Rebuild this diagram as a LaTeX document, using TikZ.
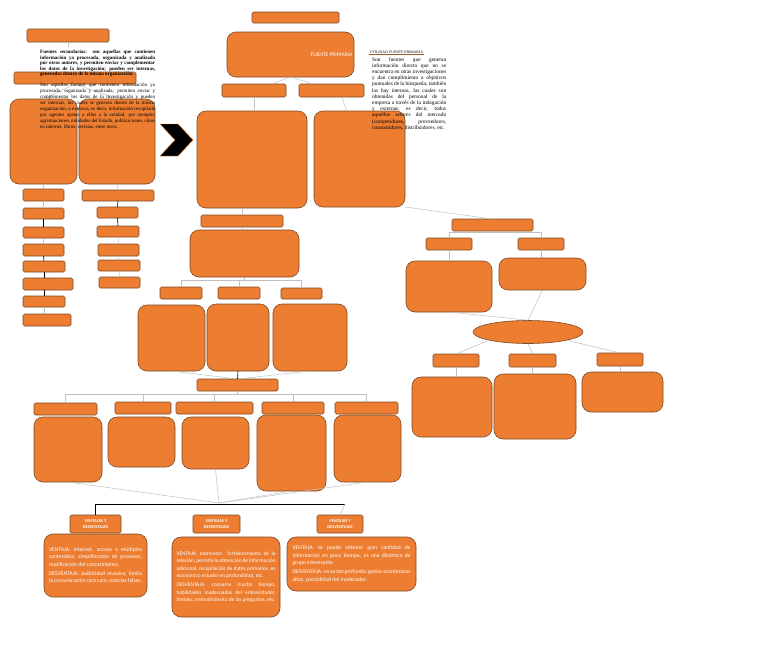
\documentclass[tikz,border=0pt]{standalone}
\usepackage{fontspec}
\setmainfont{Liberation Serif}
\newfontfamily\calibri{Carlito}
\usetikzlibrary{shapes.geometric}
\definecolor{naranja}{HTML}{ED7D31}
\definecolor{borde}{HTML}{7B4A24}
\definecolor{linea}{HTML}{BFBFBF}
\hyphenpenalty=10000
\exhyphenpenalty=10000
\tolerance=9999
\emergencystretch=8pt

\begin{document}
\begin{tikzpicture}[x=1pt, y=-1pt,
	caja/.style={draw=borde, fill=naranja, line width=0.6pt, rounded corners=9pt, inner sep=0pt, outer sep=0pt},
	barra/.style={draw=borde, fill=naranja, line width=0.6pt, rounded corners=1.5pt, inner sep=0pt, outer sep=0pt},
	con/.style={draw=linea, line width=0.5pt},
	neg/.style={draw=black, line width=0.6pt},
	blanco/.style={text=white, font=\calibri\fontsize{5.6}{7.3}\selectfont, align=justify},
	titulo/.style={barra, minimum height=18pt, text=white, font=\calibri\bfseries\fontsize{4.4}{5.6}\selectfont, align=center}]
	\useasboundingbox (0,0) rectangle (768,664);

	% columna izquierda
	\node[barra, minimum width=82pt, minimum height=13pt] (t1) at (68,35.5) {};
	\node[barra, minimum width=122pt, minimum height=12pt] (t2) at (75,78) {};
	\node[caja, minimum width=67pt, minimum height=85pt] (A) at (43.5,141.5) {};
	\node[caja, minimum width=76pt, minimum height=85pt] (B) at (117,141.5) {};
	\node[barra, minimum width=41pt, minimum height=12pt] (la1) at (43.5,195) {};
	\node[barra, minimum width=41pt, minimum height=11pt] (la2) at (43.5,213.5) {};
	\node[barra, minimum width=41pt, minimum height=11pt] (la3) at (43.5,232.5) {};
	\node[barra, minimum width=41pt, minimum height=12pt] (la4) at (43.5,250) {};
	\node[barra, minimum width=42pt, minimum height=11pt] (la5) at (44,266.5) {};
	\node[barra, minimum width=50pt, minimum height=12pt] (la6) at (48,284) {};
	\node[barra, minimum width=42pt, minimum height=11pt] (la7) at (44,301.5) {};
	\node[barra, minimum width=48pt, minimum height=12pt] (la8) at (47,320) {};
	\node[barra, minimum width=72pt, minimum height=11pt] (lb0) at (118,195.5) {};
	\node[barra, minimum width=41pt, minimum height=11pt] (lb1) at (117.5,212.5) {};
	\node[barra, minimum width=42pt, minimum height=11pt] (lb2) at (118,231.5) {};
	\node[barra, minimum width=41pt, minimum height=12pt] (lb3) at (118.5,250) {};
	\node[barra, minimum width=42pt, minimum height=11pt] (lb4) at (119,265.5) {};
	\node[barra, minimum width=41pt, minimum height=11pt] (lb5) at (119.5,282.5) {};
	\draw[con] (t1.south) -- ++(0,5);
	\draw[con] (t2.south) -- (A.north);
	\draw[con] (t2.south) -- (B.north);
	\draw[con] (A.south) -- (la1.north);
	\draw[con] (la1.south) -- (la2.north);
	\draw[neg] (la2.south) -- (la3.north);
	\draw[con] (la3.south) -- (la4.north);
	\draw[neg] (la4.south) -- (la5.north);
	\draw[neg] (la5.south) -- (la6.north -| la5.south);
	\draw[neg] (la6.south -| la7.north) -- (la7.north);
	\draw[con] (la7.south) -- (la8.north -| la7.south);
	\draw[con] (B.south) -- (lb0.north);
	\draw[neg] (lb0.south) -- (lb1.north);
	\draw[neg] (lb1.south) -- (lb2.north);
	\draw[con] (lb2.south) -- (lb3.north);
	\draw[con] (lb3.south) -- (lb4.north);
	\draw[con] (lb4.south) -- (lb5.north);
	\node[anchor=north west, text width=115pt, align=justify, font=\bfseries\fontsize{5}{5.5}\selectfont, inner sep=0pt] (encima) at (40,50) {Fuentes secundarias: son aquellas que contienen información ya procesada, organizada y analizada por otros autores, y permiten enviar y complementar los datos de la investigación; pueden ser internas, generadas dentro de la misma organización.};
	\node[anchor=south west, text width=115pt, align=justify, font=\fontsize{5}{6}\selectfont, inner sep=0pt] (secundaria) at (40,129) {Son aquellas fuentes que contienen información ya procesada, organizada y analizada; permiten enviar y complementar los datos de la investigación y pueden ser internas, las cuales se generan dentro de la misma organización, o externas, es decir, información recopilada por agentes ajenos a ellos a la entidad, por ejemplo: agremiaciones, entidades del Estado, publicaciones, sitios en internet, libros, revistas, entre otros.};
	\filldraw[fill=black, draw=naranja, line width=0.4pt] (160,124) -- (178,124) -- (193,140) -- (178,156) -- (160,156) -- (175,140) -- cycle;

	% fuente primaria
	\node[barra, minimum width=87pt, minimum height=11pt] (arriba) at (295.5,17.5) {};
	\node[caja, minimum width=127pt, minimum height=45pt] (fp) at (290.5,54.5) {};
	\node[anchor=east, text=white, font=\calibri\fontsize{5.5}{6}\selectfont, inner sep=1.5pt] (fptexto) at (fp.east) {FUENTE PRIMARIA};
	\node[barra, minimum width=64pt, minimum height=13pt] (pl) at (254,90.5) {};
	\node[barra, minimum width=65pt, minimum height=13pt] (pr) at (331.5,90.5) {};
	\node[caja, minimum width=110pt, minimum height=97pt] (bl) at (252,159.5) {};
	\node[caja, minimum width=91pt, minimum height=96pt] (br) at (359.5,159) {};
	\draw[con] (fp.south) -- (pl.20);
	\draw[con] (fp.south) -- (pr.160);
	\draw[con] (pl.south) -- (pl.south |- bl.north);
	\draw[con] (pr.-32) -- (br.105);
	\node[anchor=south west, font=\fontsize{3.8}{4}\selectfont, inner sep=0.6pt] (utilidad) at (369,54) {UTILIDAD FUENTE PRIMARIA};
	\draw[draw=borde!70!naranja, line width=0.8pt] (utilidad.south west) -- (utilidad.south east);
	\node[anchor=north west, text width=74pt, align=justify, font=\fontsize{5.4}{6.2}\selectfont, inner sep=0pt] (parrafo) at (372,57) {Son fuentes que generan información directa que no se encuentra en otras investigaciones y dan cumplimiento a objetivos puntuales de la búsqueda; también las hay internas, las cuales son obtenidas del personal de la empresa a través de la indagación y externas, es decir, todos aquellos actores del mercado (competidores, proveedores, consumidores, distribuidores, etc.};

	% parte central
	\node[barra, minimum width=82pt, minimum height=12pt] (mbarra) at (242,221) {};
	\node[caja, minimum width=109pt, minimum height=47pt] (mcaja) at (244.5,253.5) {};
	\node[barra, minimum width=42pt, minimum height=12pt] (m1) at (181,293) {};
	\node[barra, minimum width=42pt, minimum height=12pt] (m2) at (239,293) {};
	\node[barra, minimum width=41pt, minimum height=11pt] (m3) at (301.5,293.5) {};
	\node[caja, minimum width=67pt, minimum height=66pt] (mb1) at (171.5,338) {};
	\node[caja, minimum width=62pt, minimum height=67pt] (mb2) at (238,337.5) {};
	\node[caja, minimum width=74pt, minimum height=67pt] (mb3) at (310,337.5) {};
	\node[barra, minimum width=81pt, minimum height=12pt] (nbarra) at (237.5,385) {};
	\draw[con] (mbarra.north |- bl.south) -- (mbarra.north);
	\draw[con] (mbarra.south) -- (mbarra.south |- mcaja.north);
	\draw[con] (mcaja.south) -- ++(0,3) -| (m1.north);
	\draw[con] (mcaja.south) -- ++(0,3) -| (m2.north);
	\draw[con] (mcaja.south) -- ++(0,3) -| (m3.north);
	\draw[con] (mb1.south) -- (nbarra.north);
	\draw[con] (mb3.south) -- (nbarra.north);
	\draw[neg] (mb2.south) -- (nbarra.north);

	% fila inferior
	\node[barra, minimum width=63pt, minimum height=12pt] (n1) at (65.5,409) {};
	\node[barra, minimum width=56pt, minimum height=12pt] (n2) at (143,408) {};
	\node[barra, minimum width=77pt, minimum height=12pt] (n3) at (214.5,408) {};
	\node[barra, minimum width=62pt, minimum height=12pt] (n4) at (293,408) {};
	\node[barra, minimum width=63pt, minimum height=12pt] (n5) at (366.5,408) {};
	\node[caja, minimum width=68pt, minimum height=65pt] (nb1) at (68,449.5) {};
	\node[caja, minimum width=67pt, minimum height=50pt] (nb2) at (141.5,442) {};
	\node[caja, minimum width=67pt, minimum height=52pt] (nb3) at (215.5,443) {};
	\node[caja, minimum width=69pt, minimum height=76pt] (nb4) at (291.5,453) {};
	\node[caja, minimum width=67pt, minimum height=67pt] (nb5) at (367.5,448.5) {};
	\draw[con] (nbarra.south) -- ++(0,3) -| (n1.north);
	\draw[con] (nbarra.south) -- ++(0,3) -| (n2.north);
	\draw[con] (nbarra.south) -- ++(0,3) -| (n3.north);
	\draw[con] (nbarra.south) -- ++(0,3) -| (n4.north);
	\draw[con] (nbarra.south) -- ++(0,3) -| (n5.north);
	\coordinate (cruce) at (219,503);
	\coordinate (esquina) at (345,504);
	\draw[con] (nb1.south) -- (cruce);
	\draw[con] (nb3.south) -- (cruce);
	\draw[con] (nb4.south) -- (cruce);
	\draw[con] (nb5.south) -- (cruce);

	% ventajas y desventajas
	\node[titulo, minimum width=51pt] (v1) at (95.5,524) {VENTAJAS Y\\DESVENTAJAS};
	\node[titulo, minimum width=47pt] (v2) at (216.5,524) {VENTAJAS Y\\DESVENTAJAS};
	\node[titulo, minimum width=46pt] (v3) at (340,524) {VENTAJAS Y\\DESVENTAJAS};
	\draw[neg] (v1.north) |- (esquina);
	\draw[con] (esquina) -- (v3.north);
	\node[caja, blanco, minimum width=103pt, minimum height=63pt, text width=93pt] (d1) at (95.5,565.5) {VENTAJA: internet, acceso a múltiples contenidos, simplificación de procesos, masificación del conocimiento.\par\vspace{2pt}DESVENTAJA: publicidad invasiva, limita la comunicación cara cara, noticias falsas.};
	\node[caja, blanco, font=\calibri\fontsize{5.4}{7.3}\selectfont, minimum width=108pt, minimum height=80pt, text width=99pt] (d2) at (226,577) {VENTAJA: entrevista: fortalecimiento de la relación, permite la obtención de información adicional, recopilación de datos primarios, es económico estudio en profundidad, etc.\par\vspace{2pt}DESVENTAJA: consume mucho tiempo, habilidades inadecuadas del entrevistador, timidez, entendimiento de las preguntas, etc.};
	\node[caja, blanco, minimum width=129pt, minimum height=54pt, text width=118pt] (d3) at (351.5,564) {VENTAJA: se puede obtener gran cantidad de información en poco tiempo, es una dinámica de grupo interesante\par\vspace{2pt}DESVENTAJA: no es tan profundo, gastos económicos altos, parcialidad del moderador.};

	% rama derecha
	\node[barra, minimum width=81pt, minimum height=12pt] (rbarra) at (492.5,225) {};
	\node[barra, minimum width=46pt, minimum height=12pt] (r1) at (449,244) {};
	\node[barra, minimum width=46pt, minimum height=12pt] (r2) at (541,244) {};
	\node[caja, minimum width=86pt, minimum height=51pt] (rb1) at (449,286.5) {};
	\node[caja, minimum width=87pt, minimum height=32pt] (rb2) at (542.5,274) {};
	\node[draw=borde, fill=naranja, line width=0.6pt, ellipse, minimum width=110pt, minimum height=23pt, inner sep=0pt] (elipse) at (528,332) {};
	\node[barra, minimum width=46pt, minimum height=13pt] (s1) at (456,360.5) {};
	\node[barra, minimum width=47pt, minimum height=13pt] (s2) at (532.5,360.5) {};
	\node[barra, minimum width=46pt, minimum height=13pt] (s3) at (620,359.5) {};
	\node[caja, minimum width=80pt, minimum height=60pt] (sb1) at (452,407) {};
	\node[caja, minimum width=82pt, minimum height=65pt] (sb2) at (535,406.5) {};
	\node[caja, minimum width=81pt, minimum height=40pt] (sb3) at (622.5,392) {};
	\draw[con] (br.south east) -- (rbarra.north);
	\draw[con] (rbarra.south) -- ++(0,1) -| (r1.north);
	\draw[con] (rbarra.south) -- ++(0,1) -| (r2.north);
	\draw[con] (r1.south) -- (r1.south |- rb1.north);
	\draw[con] (r2.south) -- (r2.south |- rb2.north);
	\draw[con] (rb1.south) -- (elipse.north);
	\draw[con] (rb2.south) -- (elipse.north);
	\draw[con] (elipse.south west) -- (s1.north);
	\draw[con] (elipse.south) -- (s2.north);
	\draw[con] (elipse.south east) -- (s3.north);
	\draw[con] (s1.south) -- (s1.south |- sb1.north);
	\draw[con] (s2.south) -- (s2.south |- sb2.north);
	\draw[con] (s3.south) -- (s3.south |- sb3.north);
\end{tikzpicture}
\end{document}
